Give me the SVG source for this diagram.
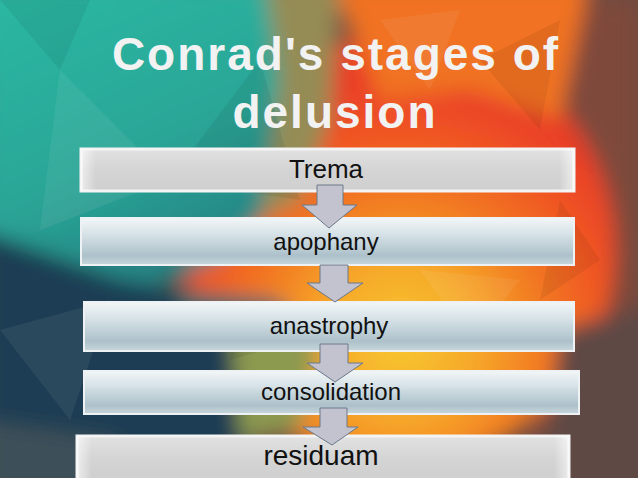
<svg xmlns="http://www.w3.org/2000/svg" width="638" height="478" viewBox="0 0 638 478">
<defs>
<style>
.box text{font-family:"Liberation Sans",Arial,sans-serif;fill:#111;text-anchor:middle}
.title{font-family:"Liberation Sans",Arial,sans-serif;font-weight:bold;fill:#f2f2f2;text-anchor:middle;font-size:46px;letter-spacing:2px}
.arrow{fill:#c3c3d0;stroke:#6c7888;stroke-width:1}
.gray{fill:url(#grayG);stroke:#f4f4f4;stroke-width:3}
.blue{fill:url(#blueG);stroke:#eef2f4;stroke-width:2}
</style>
<linearGradient id="grayG" x1="0" y1="0" x2="0" y2="1">
<stop offset="0" stop-color="#e2e2e2"/><stop offset="0.5" stop-color="#d4d4d4"/><stop offset="1" stop-color="#cfcfcf"/>
</linearGradient>
<linearGradient id="blueG" x1="0" y1="0" x2="0" y2="1">
<stop offset="0" stop-color="#f2f6f7"/><stop offset="0.35" stop-color="#d6e2e7"/><stop offset="0.8" stop-color="#adc1ca"/><stop offset="1" stop-color="#c8d6dc"/>
</linearGradient>
<linearGradient id="sideG" x1="0" y1="0" x2="1" y2="0">
<stop offset="0" stop-color="#fff" stop-opacity="0.6"/><stop offset="0.03" stop-color="#fff" stop-opacity="0"/><stop offset="0.97" stop-color="#fff" stop-opacity="0"/><stop offset="1" stop-color="#fff" stop-opacity="0.6"/>
</linearGradient>
<radialGradient id="disc" cx="400" cy="340" r="260" gradientUnits="userSpaceOnUse">
<stop offset="0" stop-color="#f8c830"/><stop offset="0.3" stop-color="#f6a82a"/><stop offset="0.55" stop-color="#f27a22"/><stop offset="0.8" stop-color="#f05524"/><stop offset="1" stop-color="#e83e26"/>
</radialGradient>
<linearGradient id="teal" x1="0" y1="0" x2="0.4" y2="1">
<stop offset="0" stop-color="#2cbaa4"/><stop offset="0.6" stop-color="#2aa596"/><stop offset="1" stop-color="#237a7e"/>
</linearGradient>
<filter id="blur" x="-0.1" y="-0.1" width="1.2" height="1.2"><feGaussianBlur stdDeviation="10"/></filter>
</defs>

<g id="background">
<rect width="638" height="478" fill="#6e4c42"/>
<g filter="url(#blur)">
<rect x="540" y="0" width="98" height="478" fill="#7e4a3a"/>
<circle cx="400" cy="250" r="215" fill="url(#disc)"/>
<polygon points="330,-20 590,-20 560,120 470,90 380,100" fill="#f07220"/>
<polygon points="-20,-20 300,-20 290,90 270,210 220,260 120,300 -20,330" fill="url(#teal)"/>
<polygon points="265,-20 340,-20 330,120 300,200 260,220 280,80" fill="#958c55"/>
<polygon points="-20,230 120,280 230,300 255,330 250,500 -20,500" fill="#1f3e52"/>
<polygon points="170,290 280,300 300,330 250,340 190,320" fill="#2f6a6a"/>
<polygon points="230,320 320,340 300,430 240,440" fill="#8c9a50"/>
<polygon points="-20,420 120,440 120,500 -20,500" fill="#3e5058"/>
<polygon points="560,330 660,300 660,500 540,500" fill="#5e4a44"/>
</g>
<g opacity="0.06">
<polygon points="0,0 90,0 60,70" fill="#000"/>
<polygon points="60,70 170,180 40,230" fill="#fff"/>
<polygon points="170,180 260,60 300,200" fill="#000"/>
<polygon points="0,330 110,300 70,420" fill="#fff"/>
<polygon points="420,270 520,280 470,340" fill="#fff"/>
<polygon points="480,60 560,20 540,130" fill="#000"/>
<polygon points="240,300 300,340 230,360" fill="#000"/>
<polygon points="560,200 600,260 540,300" fill="#000"/>
<polygon points="380,20 460,10 430,90" fill="#fff"/>
</g>
</g>

<g id="title">
<text class="title" x="336" y="70">Conrad's stages of</text>
<text class="title" x="335" y="128">delusion</text>
</g>

<g id="node-trema" class="box">
<rect class="gray" x="81" y="149" width="493" height="42"/>
<rect x="81" y="149" width="493" height="42" fill="url(#sideG)"/>
<text x="326" y="178" font-size="26">Trema</text>
</g>
<g id="node-apophany" class="box">
<rect class="blue" x="81" y="218" width="493" height="47"/>
<text x="326" y="250" font-size="24">apophany</text>
</g>
<g id="node-anastrophy" class="box">
<rect class="blue" x="84" y="302" width="490" height="49"/>
<text x="329" y="334" font-size="24">anastrophy</text>
</g>
<g id="node-consolidation" class="box">
<rect class="blue" x="84" y="371" width="495" height="43"/>
<text x="331" y="400" font-size="24">consolidation</text>
</g>
<g id="node-residuam" class="box">
<rect class="gray" x="77" y="436" width="492" height="46"/>
<rect x="77" y="436" width="492" height="46" fill="url(#sideG)"/>
<text x="321" y="465" font-size="28">residuam</text>
</g>

<g id="connectors">
<polygon class="arrow" points="317,185 343,185 343,205 357,205 329,228 302,205 317,205"/>
<polygon class="arrow" points="320,265 348,265 348,283 363,283 335,302 307,283 320,283"/>
<polygon class="arrow" points="320,344 348,344 348,363 363,363 335,382 307,363 320,363"/>
<polygon class="arrow" points="320,408 347,408 347,427 358,427 332,445 303,427 320,427"/>
</g>
</svg>
